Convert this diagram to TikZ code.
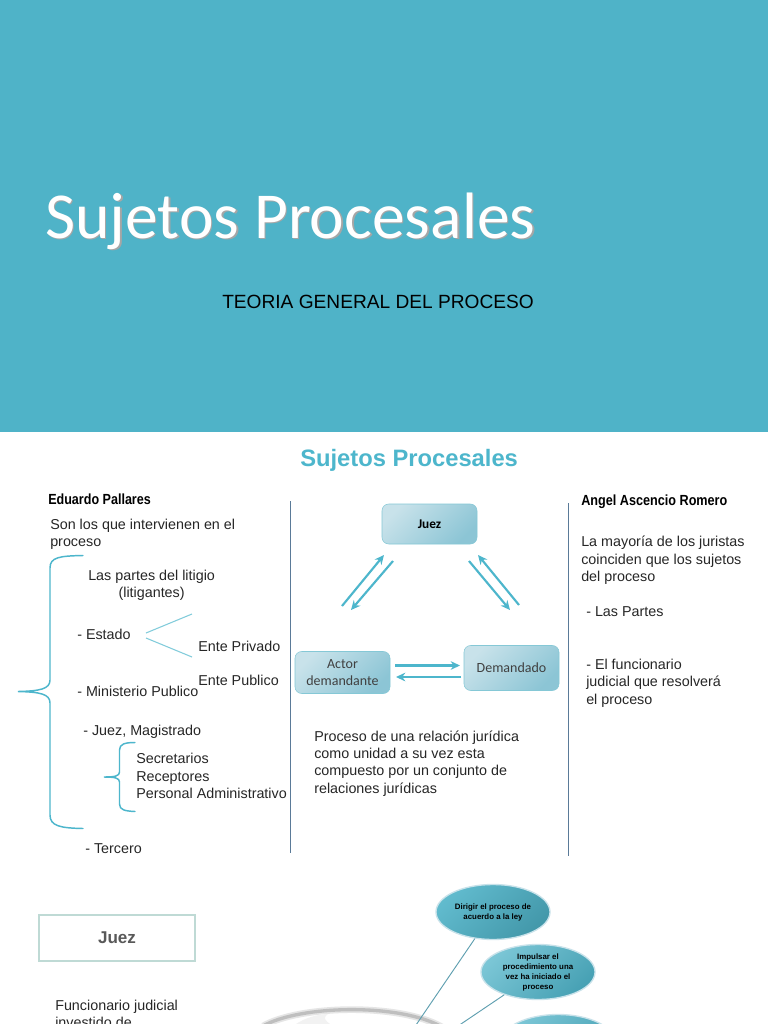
\documentclass[tikz,border=0pt]{standalone}
\usepackage{fontspec}
\usepackage{graphicx}
\setmainfont{Liberation Sans}
\newfontfamily\carl{Carlito}
\usetikzlibrary{arrows.meta,shapes.geometric}
\definecolor{slideblue}{HTML}{4FB3C8}
\definecolor{teal}{HTML}{4DB6CC}
\definecolor{boxedge}{HTML}{85C8D6}
\definecolor{boxa}{HTML}{C8E2EA}
\definecolor{boxb}{HTML}{8CC5D5}
\definecolor{rulecol}{HTML}{5A7A98}
\definecolor{linecol}{HTML}{5F9FB0}
\definecolor{jedge}{HTML}{BFDAD5}
\tikzset{
  body/.style={font=\fontsize{10.75pt}{13pt}\selectfont,text=black!85,anchor=west,inner sep=0pt,align=left},
  head/.style={font=\fontsize{11pt}{12pt}\selectfont\bfseries,text=black,anchor=west,inner sep=0pt},
  flowbox/.style={draw=boxedge,rounded corners=5pt,left color=boxa,right color=boxb,shading angle=45,inner sep=0pt,font=\carl\fontsize{10.5pt}{13pt}\selectfont,text=black!75,align=center},
  bubble/.style={ellipse,draw=boxa,line width=1pt,inner sep=0pt,font=\fontsize{5.9pt}{7.5pt}\selectfont\bfseries,align=center,text=black,minimum width=85.5pt,minimum height=41.25pt},
  arr/.style={draw=teal,line width=1.6pt,-{Stealth[length=7pt,width=6.5pt]}},
  brace/.style={draw=teal,line width=1.1pt,line cap=round},
  vrule/.style={draw=rulecol,line width=0.8pt},
  branch/.style={draw=teal!70,line width=0.8pt},
  spoke/.style={draw=linecol,line width=0.7pt}
}
\begin{document}
\begin{tikzpicture}[x=0.75pt,y=-0.75pt]
\useasboundingbox (0,0) rectangle (768,1024);
\clip (0,0) rectangle (768,1024);
\fill[white] (0,0) rectangle (768,1024);
\fill[slideblue] (0,0) rectangle (768,432);
% title slide
\node[font=\carl\fontsize{49.2pt}{50pt}\selectfont,text=black!35,anchor=west,inner sep=0pt] (titleshadow) at (46.5,222.5) {Sujetos Procesales};
\node[font=\carl\fontsize{49.2pt}{50pt}\selectfont,text=white,anchor=west,inner sep=0pt] (title) at (45,221) {Sujetos Procesales};
\node[font=\fontsize{14.35pt}{16pt}\selectfont,text=black,anchor=west,inner sep=0pt] (subtitle) at (222,302) {TEORIA GENERAL DEL PROCESO};
% second slide
\node[font=\fontsize{17.8pt}{20pt}\selectfont\bfseries,text=teal,anchor=west,inner sep=0pt] (title2) at (300,460) {Sujetos Procesales};
\node[head] (ep) at (48,499.5) {\scalebox{0.856}[1]{Eduardo Pallares}};
\node[body] (t1) at (50,534) {Son los que intervienen en el\\proceso};
\node[body,align=center] (t2) at (88,585.5) {Las partes del litigio\\(litigantes)};
\node[body] (t3) at (77,634.5) {- Estado};
\node[body] (t4) at (198,646.5) {Ente Privado};
\node[body] (t5) at (198,680.5) {Ente Publico};
\node[body] (t6) at (77,691) {- Ministerio Publico};
\node[body] (t7) at (83,732) {- Juez, Magistrado};
\node[body] (t8) at (136,776) {Secretarios\\Receptores\\Personal Administrativo};
\node[body] (t9) at (85,849) {- Tercero};
\coordinate (estadoA) at (146,633);
\coordinate (estadoB) at (192,614);
\coordinate (estadoC) at (146,638);
\coordinate (estadoD) at (192,657);
\draw[branch] (estadoB) -- (estadoA);
\draw[branch] (estadoC) -- (estadoD);
\draw[brace] (83,555.5) .. controls (60,556) and (50,557) .. (50,568) -- (50,680) .. controls (50,689) and (40,691) .. (18,691.5) .. controls (40,692) and (50,694) .. (50,703) -- (50,815) .. controls (50,826) and (60,828) .. (83,828.5);
\draw[brace] (135,742.5) .. controls (125,742.5) and (119.5,744) .. (119.5,750) -- (119.5,772) .. controls (119.5,776) and (115,777) .. (104,777) .. controls (115,777) and (119.5,778) .. (119.5,782) -- (119.5,804) .. controls (119.5,810) and (125,811) .. (135,811.5);
\draw[vrule] (290.5,501) -- (290.5,853);
\draw[vrule] (568.5,503) -- (568.5,856);
% triangle
\node[flowbox,minimum width=71.25pt,minimum height=30pt,font=\carl\fontsize{10pt}{13pt}\selectfont\bfseries,text=black] (juez) at (429.5,524) {Juez};
\node[flowbox,minimum width=71.25pt,minimum height=31.5pt] (actor) at (342.5,672.5) {Actor\\demandante};
\node[flowbox,minimum width=71.25pt,minimum height=33.75pt] (dem) at (511.5,668) {Demandado};
\coordinate (a1) at (342,606);
\coordinate (a2) at (384,555);
\coordinate (a3) at (393,561);
\coordinate (a4) at (351,610);
\coordinate (b1) at (519,605);
\coordinate (b2) at (478,555);
\coordinate (b3) at (469,561);
\coordinate (b4) at (510,610);
\draw[arr] (a1) -- (a2);
\draw[arr] (a3) -- (a4);
\draw[arr] (b1) -- (b2);
\draw[arr] (b3) -- (b4);
\coordinate (c1) at (395,665.5);
\coordinate (c2) at (460,665.5);
\coordinate (c3) at (461,677);
\coordinate (c4) at (396,677);
\draw[arr] (c1) -- (c2);
\draw[arr] (c3) -- (c4);
\node[body] (t10) at (314,763.5) {Proceso de una relación jurídica\\como unidad a su vez esta\\compuesto por un conjunto de\\relaciones jurídicas};
\node[head] (ar) at (581,502) {\scalebox{0.862}[1]{Angel Ascencio Romero}};
\node[body] (t11) at (581,560.5) {La mayoría de los juristas\\coinciden que los sujetos\\del proceso};
\node[body] (t12) at (586,612) {- Las Partes};
\node[body] (t13) at (586,683) {- El funcionario\\judicial que resolverá\\el proceso};
% third slide
\draw[black!10,line width=5pt] (263,1026) .. controls (300,1005) and (400,1003) .. (442,1027);
\draw[black!25,line width=2.5pt] (263,1026) .. controls (300,1005) and (400,1003) .. (442,1027);
\fill[black!5] (296,1024) .. controls (305,1018) and (318,1014) .. (328,1014) .. controls (322,1018) and (326,1021) .. (330,1024) -- cycle;
\node[draw=jedge,line width=1pt,minimum width=117pt,minimum height=34.5pt,inner sep=0pt,font=\fontsize{12.8pt}{14pt}\selectfont\bfseries,text=black!65] (jbox) at (117,938) {Juez};
\node[body,anchor=north west,text=black!85] (t14) at (55,1000) {Funcionario judicial\\investido de};
\node[bubble,left color=slideblue!90,right color=slideblue!85!black,shading angle=45] (e1) at (493,912) {Dirigir el proceso de\\acuerdo a la ley};
\node[bubble,left color=slideblue!75,right color=slideblue!90!black,shading angle=45] (e2) at (538,972) {Impulsar el\\procedimiento una\\vez ha iniciado el\\proceso};
\node[bubble,left color=slideblue!75,right color=slideblue!90!black,shading angle=45] (e3) at (558,1042) {};
\coordinate (s1) at (416,1025);
\coordinate (s2) at (458,1026);
\draw[spoke] (s1) -- (e1);
\draw[spoke] (s2) -- (e2);
\end{tikzpicture}
\end{document}
